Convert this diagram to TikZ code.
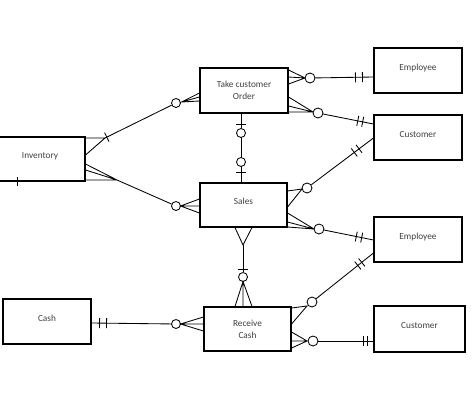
\documentclass[tikz,border=0pt]{standalone}
\usepackage{fontspec}
\setmainfont{Carlito}
\usetikzlibrary{calc}
\newcommand\ertick[3]{\coordinate (tk) at ($(#1)!#3!(#2)$);
  \draw[rel] ($(tk)!5pt!90:(#2)$) -- ($(tk)!5pt!-90:(#2)$);}
\begin{document}
\begin{tikzpicture}[x=1pt,y=-1pt,
  ent/.style={draw, line width=1.1pt, minimum width=88pt, minimum height=45pt,
    inner sep=0pt, align=center, font=\fontsize{9.3}{12}\selectfont, text=black!75},
  oneline/.style={text depth=7pt},
  rel/.style={line width=0.85pt},
  opt/.style={draw, line width=0.85pt, circle, minimum size=9pt, inner sep=0pt, fill=white}]
\useasboundingbox (0,0) rectangle (474,402);

% entities
\node[ent, oneline, minimum width=90pt, minimum height=44pt] (inv) at (40,159) {Inventory};
\node[ent] (ord) at (244,90.5) {Take customer\\Order};
\node[ent, oneline, minimum width=87pt, minimum height=44pt] (sal) at (243.5,205) {Sales};
\node[ent, minimum width=87pt, minimum height=44pt] (rc) at (247.5,329) {Receive\\Cash};
\node[ent, oneline] (emp1) at (418,70.5) {Employee};
\node[ent, oneline] (cus1) at (418,137.5) {Customer};
\node[ent, oneline] (emp2) at (418,239.5) {Employee};
\node[ent, oneline, minimum width=91pt, minimum height=46pt] (cus2) at (419.5,329) {Customer};
\node[ent, oneline] (cash) at (47,321.5) {Cash};

\draw[rel] (17,177) -- (17,186);

% Inventory - Take customer Order
\coordinate (i1) at (105,138);
\draw[rel] (inv.east |- 0,155) -- (i1) -- (inv.east |- 0,138);
\node[opt] (o1) at (176,103) {};
\draw[rel] (i1) -- (o1);
\ertick{i1}{o1}{2pt}
\coordinate (t1) at (181.5,102);
\draw[rel] (ord.west |- 0,93) -- (t1) -- (ord.west |- 0,101) (t1) -- (ord.west |- 0,97);

% Inventory - Sales
\coordinate (i2) at (117,180);
\draw[rel] (inv.east |- 0,164) -- (i2) (inv.east |- 0,170) -- (i2) (inv.east |- 0,180) -- (i2);
\node[opt] (o2) at (176,206) {};
\draw[rel] (i2) -- (o2);
\coordinate (s2) at (180.5,206);
\draw[rel] (sal.west |- 0,199) -- (s2) -- (sal.west |- 0,213) (s2) -- (sal.west |- 0,206);

% Take customer Order - Employee
\coordinate (r3) at (305,78);
\draw[rel] (ord.east |- 0,70) -- (r3) -- (ord.east |- 0,84) (r3) -- (ord.east |- 0,77);
\node[opt, minimum size=10pt] (o3) at (310,78) {};
\coordinate (e3) at (emp1.west |- 0,77);
\draw[rel] (o3) -- (e3);
\ertick{e3}{o3}{18pt}
\ertick{e3}{o3}{11pt}

% Take customer Order - Customer
\coordinate (r4) at (313,112);
\draw[rel] (ord.east |- 0,97) -- (r4) -- (ord.east |- 0,112) (r4) -- (ord.east |- 0,106);
\node[opt, minimum size=10pt] (o4) at (318,113) {};
\coordinate (e4) at (cus1.west |- 0,124);
\draw[rel] (o4) -- (e4);
\ertick{e4}{o4}{16pt}
\ertick{e4}{o4}{11pt}

% Take customer Order - Sales
\coordinate (a5) at (ord.south -| 241,0);
\coordinate (b5) at (sal.north -| 241,0);
\node[opt] (o5a) at (241,133) {};
\node[opt] (o5b) at (241,162) {};
\draw[rel] (a5) -- (o5a) -- (o5b) -- (b5);
\ertick{a5}{b5}{11pt}
\ertick{b5}{a5}{10pt}

% Sales - Customer
\coordinate (r6) at (302,189);
\draw[rel] (sal.east |- 0,191) -- (r6) -- (sal.east |- 0,207);
\node[opt, minimum size=10pt] (o6) at (307,188) {};
\coordinate (e6) at (cus1.west |- 0,138);
\draw[rel] (o6) -- (e6);
\ertick{e6}{o6}{24pt}
\ertick{e6}{o6}{18pt}

% Sales - Employee
\coordinate (r7) at (314,229);
\draw[rel] (sal.east |- 0,213) -- (r7) -- (sal.east |- 0,227) (r7) -- (sal.east |- 0,222);
\node[opt, minimum size=10pt] (o7) at (319,229) {};
\coordinate (e7) at (emp2.west |- 0,240);
\draw[rel] (o7) -- (e7);
\ertick{e7}{o7}{17.5pt}
\ertick{e7}{o7}{12pt}

% Sales - Receive Cash
\coordinate (s8) at (243,245);
\draw[rel] (sal.south -| 235,0) -- (s8) -- (sal.south -| 252,0);
\node[opt] (o8) at (243,277) {};
\draw[rel] (s8) -- (o8);
\ertick{s8}{o8}{24pt}
\coordinate (t8) at (243,281.5);
\draw[rel] (rc.north -| 235,0) -- (t8) -- (rc.north -| 252,0) (t8) -- (rc.north -| 243,0);

% Receive Cash - Employee
\coordinate (r9) at (307,306);
\draw[rel] (rc.east |- 0,308) -- (r9) -- (rc.east |- 0,324);
\node[opt, minimum size=10pt] (o9) at (312,302) {};
\coordinate (e9) at (emp2.west |- 0,253);
\draw[rel] (o9) -- (e9);
\ertick{e9}{o9}{20pt}
\ertick{e9}{o9}{15pt}

% Receive Cash - Customer
\coordinate (r10) at (307,341);
\draw[rel] (rc.east |- 0,332) -- (r10) -- (rc.east |- 0,348) (r10) -- (rc.east |- 0,341);
\node[opt, minimum size=10pt] (o10) at (313,341) {};
\coordinate (e10) at (cus2.west |- 0,341);
\draw[rel] (o10) -- (e10);
\ertick{e10}{o10}{10pt}
\ertick{e10}{o10}{6pt}

% Cash - Receive Cash
\coordinate (e11) at (cash.east |- 0,323);
\node[opt] (o11) at (176,324) {};
\draw[rel] (e11) -- (o11);
\ertick{e11}{o11}{8pt}
\ertick{e11}{o11}{15pt}
\coordinate (t11) at (180.5,324);
\draw[rel] (rc.west |- 0,317) -- (t11) -- (rc.west |- 0,331) (t11) -- (rc.west |- 0,324);
\end{tikzpicture}
\end{document}
